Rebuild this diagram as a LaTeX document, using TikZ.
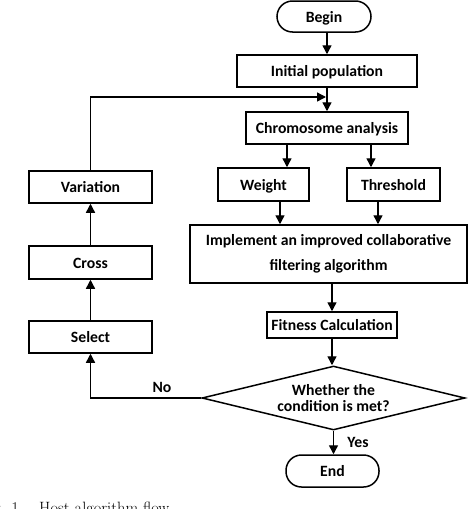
\documentclass[tikz,border=0pt]{standalone}
\usepackage{fontspec}
\setsansfont{Carlito}
\usetikzlibrary{arrows.meta,shapes.geometric}
\begin{document}
\begin{tikzpicture}[x=1pt,y=-1pt,
  every node/.style={font=\sffamily\bfseries\fontsize{15.7}{19}\selectfont},
  box/.style={draw,line width=1.5pt,rectangle,inner sep=0pt,align=center},
  one/.style={text height=13pt,text depth=2pt},
  term/.style={box,one,rounded corners=15.5pt},
  dec/.style={draw,line width=1.5pt,diamond,inner sep=0pt,align=center,aspect=4.1},
  arr/.style={line width=1.4pt,-{Triangle[length=9pt,width=9pt]}},
  lbl/.style={inner sep=0pt}]
\useasboundingbox (0,0) rectangle (474,509);
\node[term,minimum width=94pt,minimum height=31pt] (begin) at (324,16.5) {Begin};
\node[box,one,minimum width=180pt,minimum height=32pt] (init) at (327,71) {Initial population};
\node[box,one,minimum width=162pt,minimum height=32pt] (chrom) at (327,128) {Chromosome analysis};
\node[box,one,minimum width=91pt,minimum height=33pt] (weight) at (263.5,184.5) {Weight};
\node[box,one,minimum width=93pt,minimum height=33pt] (thresh) at (393.5,184.5) {Threshold};
\node[box,minimum width=277pt,minimum height=58pt,font=\sffamily\bfseries\fontsize{15.7}{25}\selectfont] (impl) at (328.5,254) {Implement an improved collaborative\\filtering algorithm};
\node[box,one,minimum width=130pt,minimum height=26pt] (fit) at (332,325) {Fitness Calculation};
\node[dec,minimum width=263pt,minimum height=64pt,font=\sffamily\bfseries\fontsize{15.7}{15.5}\selectfont] (dia) at (333.5,398) {Whether the\\condition is met?};
\node[term,minimum width=93pt,minimum height=32pt] (end) at (332.5,471) {End};
\node[box,one,minimum width=123pt,minimum height=32pt] (var) at (90.5,187) {Variation};
\node[box,one,minimum width=123pt,minimum height=33pt] (cross) at (90.5,262.5) {Cross};
\node[box,one,minimum width=123pt,minimum height=32pt] (select) at (90.5,337) {Select};
\coordinate (fb) at (326,97);
% connectors
\draw[arr] (init.north |- begin.south) -- (init.north);
\draw[arr] (init.south) -- (chrom.north);
\draw[arr] (var.north) -- (var.north |- fb) -- (fb);
\draw[arr] ([xshift=23.5pt]weight.north |- chrom.south) -- ([xshift=23.5pt]weight.north);
\draw[arr] ([xshift=-22.5pt]thresh.north |- chrom.south) -- ([xshift=-22.5pt]thresh.north);
\draw[arr] ([xshift=16.5pt]weight.south) -- ([xshift=16.5pt]weight.south |- impl.north);
\draw[arr] ([xshift=-15.5pt]thresh.south) -- ([xshift=-15.5pt]thresh.south |- impl.north);
\draw[arr] (fit.north |- impl.south) -- (fit.north);
\draw[arr] (fit.south) -- (fit.south |- dia.north);
\draw[arr] (dia.south) -- (dia.south |- end.north);
\draw[arr] (dia.west) -- (select.south |- dia.west) -- (select.south);
\draw[arr] (select.north) -- (cross.south);
\draw[arr] (cross.north) -- (var.south);
\node[lbl] (no) at (162,387) {No};
\node[lbl] (yes) at (358,442) {Yes};
% caption (cut off at the bottom edge)
\node[lbl,anchor=base east,font=\rmfamily\fontsize{16.4}{18}\selectfont] (capnum) at (19,513) {Fig. 1};
\node[lbl,anchor=base west,font=\rmfamily\fontsize{16.4}{18}\selectfont] (cap) at (39,513) {Host algorithm flow};
\end{tikzpicture}
\end{document}
